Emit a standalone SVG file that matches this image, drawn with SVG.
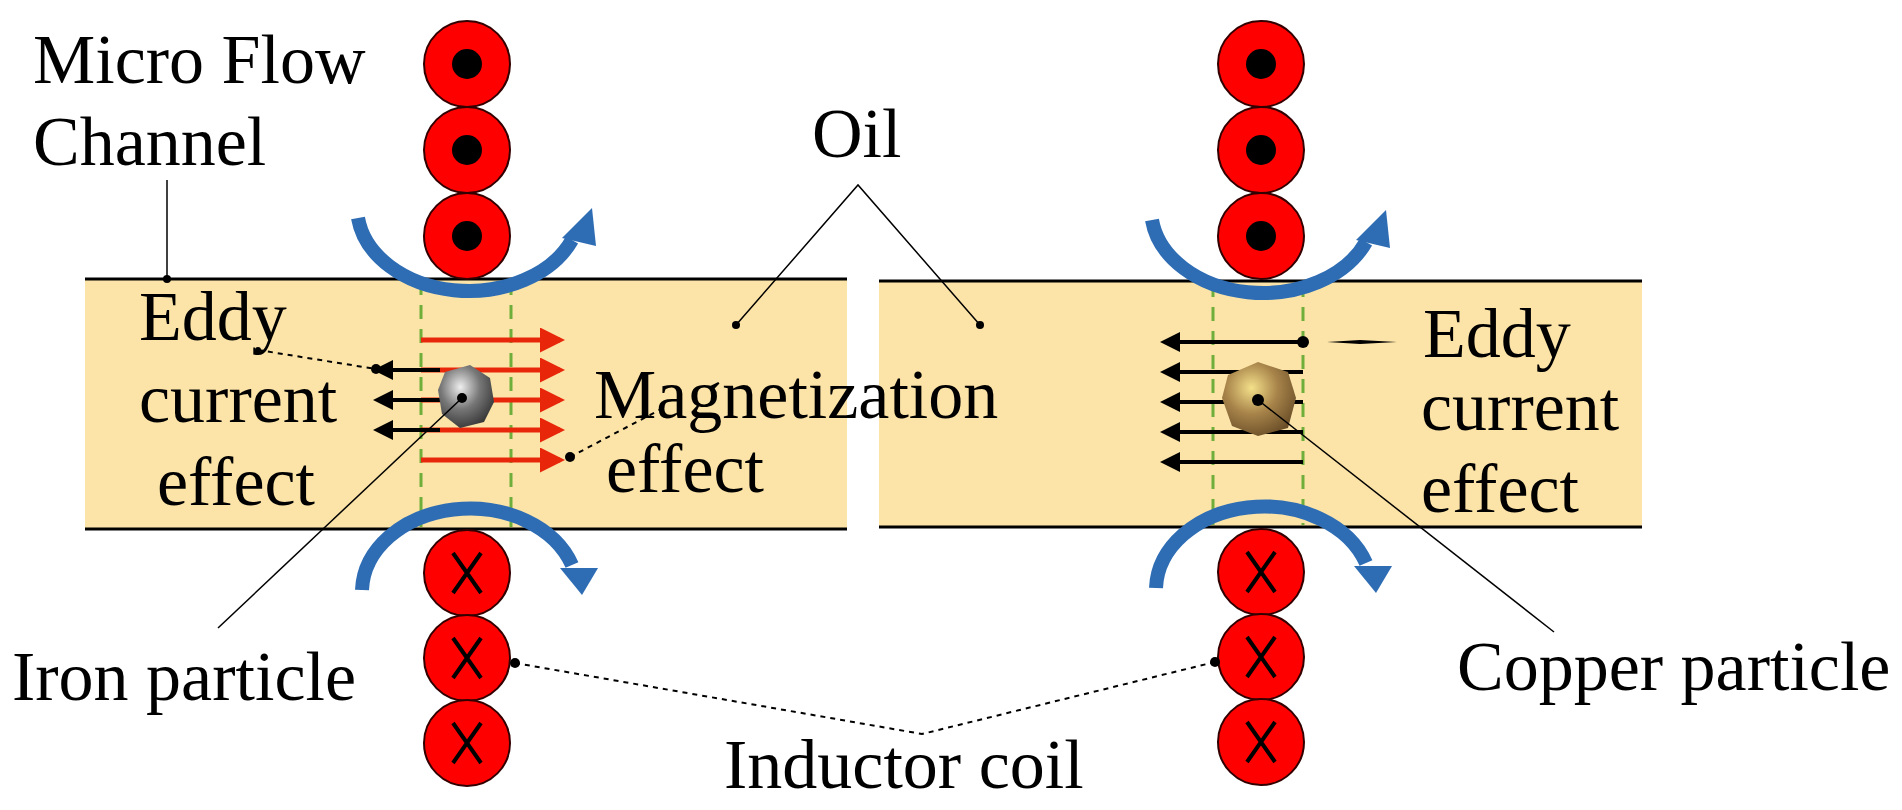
<svg xmlns="http://www.w3.org/2000/svg" width="1902" height="810" viewBox="0 0 1902 810">
<style>
.t{font-family:"Liberation Serif","Times New Roman",Times,"DejaVu Serif",serif;font-size:70px;fill:#000}
.ch{fill:#FCE4A8}
.edge{stroke:#000;stroke-width:3}
.coil{fill:#FF0000;stroke:#300;stroke-width:2}
.dash{stroke:#6FAE3A;stroke-width:3;stroke-dasharray:14 10;fill:none}
.blue{fill:none;stroke:#2E6DB4;stroke-width:14}
.bh{fill:#2E6DB4}
.red{stroke:#E8260A;stroke-width:5}
.blk{stroke:#000;stroke-width:4}
.lead{stroke:#000;stroke-width:1.5;fill:none}
.dot{stroke:#000;stroke-width:2;stroke-dasharray:5 5;fill:none}
</style>
<defs>
<marker id="ar" markerWidth="5" markerHeight="5" refX="4" refY="2.5" orient="auto" markerUnits="strokeWidth"><path d="M0,0L5,2.5L0,5z" fill="#E8260A"/></marker>
<marker id="ab" markerWidth="5" markerHeight="5" refX="4" refY="2.5" orient="auto" markerUnits="strokeWidth"><path d="M0,0L5,2.5L0,5z" fill="#000"/></marker>
<radialGradient id="fe" cx="0.4" cy="0.35" r="0.7"><stop offset="0" stop-color="#EEE"/><stop offset="0.5" stop-color="#777"/><stop offset="1" stop-color="#333"/></radialGradient>
<radialGradient id="cu" cx="0.4" cy="0.35" r="0.7"><stop offset="0" stop-color="#F4E08A"/><stop offset="0.5" stop-color="#A8844A"/><stop offset="1" stop-color="#6A4E28"/></radialGradient>
<g id="dotc"><circle r="43" class="coil"/><circle r="15" fill="#000"/></g>
<g id="xc"><circle r="43" class="coil"/><path d="M-14,-20L14,20M14,-20L-14,20" stroke="#000" stroke-width="4"/></g>
</defs>
<g id="channels">
<rect class="ch" x="85" y="279" width="762" height="250"/>
<line class="edge" x1="85" y1="279" x2="847" y2="279"/>
<line class="edge" x1="85" y1="529" x2="847" y2="529"/>
<rect class="ch" x="879" y="281" width="763" height="246"/>
<line class="edge" x1="879" y1="281" x2="1642" y2="281"/>
<line class="edge" x1="879" y1="527" x2="1642" y2="527"/>
</g>
<g id="left-assembly">
<use href="#dotc" x="467" y="64"/><use href="#dotc" x="467" y="150"/><use href="#dotc" x="467" y="236"/>
<use href="#xc" x="467" y="573"/><use href="#xc" x="467" y="658"/><use href="#xc" x="467" y="743"/>
<line class="dash" x1="421" y1="281" x2="421" y2="527"/><line class="dash" x1="511" y1="281" x2="511" y2="527"/>
<path class="blue" d="M358,218 A112,84 0 0 0 572,240"/><path class="bh" d="M562,238L592,208L596,246z"/>
<path class="blue" d="M362,590 A108,84 0 0 1 572,565"/><path class="bh" d="M560,568L598,568L582,595z"/>
</g>
<g id="right-assembly">
<use href="#dotc" x="1261" y="64"/><use href="#dotc" x="1261" y="150"/><use href="#dotc" x="1261" y="236"/>
<use href="#xc" x="1261" y="572"/><use href="#xc" x="1261" y="657"/><use href="#xc" x="1261" y="742"/>
<line class="dash" x1="1213" y1="283" x2="1213" y2="525"/><line class="dash" x1="1303" y1="283" x2="1303" y2="525"/>
<path class="blue" d="M1152,220 A112,84 0 0 0 1366,242"/><path class="bh" d="M1356,240L1386,210L1390,248z"/>
<path class="blue" d="M1156,588 A108,84 0 0 1 1366,563"/><path class="bh" d="M1354,566L1392,566L1376,593z"/>
</g>
<g id="connectors">
<line class="red" x1="421" y1="340" x2="560" y2="340" marker-end="url(#ar)"/>
<line class="red" x1="421" y1="370" x2="560" y2="370" marker-end="url(#ar)"/>
<line class="red" x1="421" y1="400" x2="560" y2="400" marker-end="url(#ar)"/>
<line class="red" x1="421" y1="430" x2="560" y2="430" marker-end="url(#ar)"/>
<line class="red" x1="421" y1="460" x2="560" y2="460" marker-end="url(#ar)"/>
<line class="blk" x1="440" y1="370" x2="377" y2="370" marker-end="url(#ab)"/>
<line class="blk" x1="440" y1="400" x2="377" y2="400" marker-end="url(#ab)"/>
<line class="blk" x1="440" y1="430" x2="377" y2="430" marker-end="url(#ab)"/>
<line class="blk" x1="1303" y1="342" x2="1164" y2="342" marker-end="url(#ab)"/>
<line class="blk" x1="1303" y1="372" x2="1164" y2="372" marker-end="url(#ab)"/>
<line class="blk" x1="1303" y1="402" x2="1164" y2="402" marker-end="url(#ab)"/>
<line class="blk" x1="1303" y1="432" x2="1164" y2="432" marker-end="url(#ab)"/>
<line class="blk" x1="1303" y1="462" x2="1164" y2="462" marker-end="url(#ab)"/>
</g>
<g id="particles">
<path d="M445,372L470,365L490,378L494,402L484,422L460,428L442,414L438,390z" fill="url(#fe)"/>
<path d="M1228,375L1258,362L1288,372L1296,398L1288,428L1258,436L1232,426L1222,398z" fill="url(#cu)"/>
</g>
<g id="leaders">
<line class="lead" x1="167" y1="180" x2="167" y2="279"/><circle cx="167" cy="279" r="4"/>
<polyline class="lead" points="736,325 858,185 980,325"/><circle cx="736" cy="325" r="4"/><circle cx="980" cy="325" r="4"/>
<line class="dot" x1="258" y1="350" x2="376" y2="369"/><circle cx="258" cy="350" r="3"/><circle cx="376" cy="369" r="5"/>
<line class="dot" x1="570" y1="457" x2="667" y2="406"/><circle cx="570" cy="457" r="5"/>
<line class="lead" x1="462" y1="398" x2="218" y2="628"/><circle cx="462" cy="398" r="5"/>
<line class="lead" x1="1258" y1="400" x2="1554" y2="632"/><circle cx="1258" cy="400" r="6"/>
<circle cx="1303" cy="342" r="6"/>
<path d="M1327,342L1360,340L1397,342L1360,344z" fill="#000"/>
<polyline class="dot" points="515,663 922,734 1215,662"/><circle cx="515" cy="663" r="5"/><circle cx="1215" cy="662" r="5"/>
</g>
<g id="labels" font-family="Liberation Serif, serif" font-size="70">
<text class="t" x="33" y="83">Micro Flow</text>
<text class="t" x="33" y="165">Channel</text>
<text class="t" x="812" y="157">Oil</text>
<text class="t" x="139" y="340">Eddy</text>
<text class="t" x="139" y="422">current</text>
<text class="t" x="157" y="505">effect</text>
<text class="t" x="594" y="418">Magnetization</text>
<text class="t" x="606" y="492">effect</text>
<text class="t" x="12" y="700">Iron particle</text>
<text class="t" x="724" y="788">Inductor coil</text>
<text class="t" x="1423" y="357">Eddy</text>
<text class="t" x="1421" y="430">current</text>
<text class="t" x="1421" y="512">effect</text>
<text class="t" x="1457" y="690">Copper particle</text>
</g>
</svg>
